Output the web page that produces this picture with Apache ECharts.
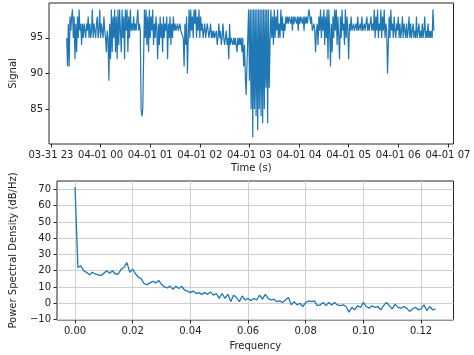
<!DOCTYPE html>
<html><head><meta charset="utf-8">
<script src="https://cdn.jsdelivr.net/npm/echarts@6/dist/echarts.min.js"></script>
<style>html,body{margin:0;padding:0;background:#fff}#c{width:474px;height:355px}</style>
</head><body><div id="c"></div>
<script>
// ---- Top panel: signal vs time (minutes after 03-31 23:00), one sample per minute ----
const sigStartMin = 19;
const sigStepMin = 1;
const sigValues = [
95,91,97,91,98,96,98,99,95,98,
92,97,93,98,95,99,96,97,94,97,
95,97,96,95,97,96,98,95,97,95,
96,99,95,97,96,95,97,98,95,96,
99,95,97,96,95,98,96,95,93,96,
95,89,97,92,99,93,98,95,99,93,
98,92,99,94,99,96,93,99,95,98,
92,99,96,99,93,98,95,99,96,97,
96,98,96,97,96,96,99,96,97,96,
85,84,85,92,99,95,99,94,98,93,
99,95,98,96,99,94,97,95,98,96,
92,97,94,98,95,97,93,98,95,97,
96,98,92,97,95,98,94,97,95,98,
96,97,96,96,97,96,96,97,96,96,
96,95,91,97,94,98,90,95,99,95,
99,96,98,95,99,97,99,95,98,96,
99,95,98,96,97,95,96,97,95,96,
97,96,95,96,97,95,96,95,96,95,
95,96,94,95,97,95,96,94,95,97,
95,94,95,96,94,95,92,97,94,95,
95,94,95,94,95,94,93,95,94,95,
94,95,93,95,91,94,90,87,91,95,
99,89,99,85,99,81,99,85,99,84,
99,82,99,85,99,84,99,83,99,85,
99,88,99,83,99,88,95,99,95,98,
94,99,95,98,96,99,95,97,95,99,
96,98,95,97,96,98,97,98,97,98,
98,97,98,96,98,97,98,98,97,98,
96,98,97,98,98,97,98,96,98,97,
98,97,98,99,98,97,98,96,96,97,
96,93,96,97,94,98,96,99,95,98,
96,99,94,98,95,99,92,99,96,91,
97,93,98,95,99,96,99,94,98,95,
92,98,95,99,96,97,94,99,95,98,
96,92,97,96,98,96,96,97,96,96,
97,96,98,96,96,97,96,98,96,96,
97,96,96,98,96,97,96,96,98,96,
97,96,99,95,98,96,99,95,97,96,
99,95,98,96,99,95,97,96,90,94,
98,95,99,96,97,95,98,96,95,97,
96,98,95,97,95,96,98,95,97,96,
95,97,95,96,98,95,97,95,96,97,
95,96,95,98,95,96,97,95,96,95,
97,95,96,98,95,96,95,97,95,96,
95,96,95,99,96
];
const timeTickLabels = ['03-31 23','04-01 00','04-01 01','04-01 02','04-01 03','04-01 04','04-01 05','04-01 06','04-01 07'];
const signalTicks = [85, 90, 95];

// ---- Bottom panel: PSD ----
const psdFreqStep = 0.001;
const psdValues = [
71.5,22,23,20,19,17.5,19,18,17.5,17,
18.5,20,18.5,20,18,18,21,22,25,19,
21,18,16,15,12,11.5,12.5,13.5,12.5,14,
11.5,10,9.5,10.5,8.5,10.5,9,10.5,8,7.5,
6.5,7.5,6,6.5,5.5,6.5,5.5,7,5,6,
3,6,3,5.5,1,5,3.5,1,4.5,2,
3,1.5,3,2,5,2.5,5.5,3,2,2.5,
1,1.5,0.5,2,3.5,-1,1,-1,0,-2,
0.5,1.5,1,1.5,-1.5,-1,0.5,-1.5,0.5,-1,
0.5,-1,-1.5,-1,-2,-5.5,-2.5,-4,-1.5,-2.5,
0.5,-2,-3,-1.5,-2.5,-2,-4,-1.5,0.5,-1.5,
-3.5,-0.5,-2.5,-3,-2,-3,-5,-3.5,-2.5,-4,
-3.5,-1,-4.5,-2,-4,-3.5
];
const freqTicks = [0, 0.02, 0.04, 0.06, 0.08, 0.10, 0.12];
const psdTicks = [-10, 0, 10, 20, 30, 40, 50, 60, 70];

const sigData = sigValues.map((v, i) => [sigStartMin + i * sigStepMin, v]);
const psdData = psdValues.map((v, i) => [+(i * psdFreqStep).toFixed(4), v]);
const timeTickVals = timeTickLabels.map((_, i) => i * 60);

const font = 'DejaVu Sans';
const txt = '#222';
const minus = s => String(s).replace('-', '\u2212');
const tickStyle = {show: true, length: 3.5, lineStyle: {color: '#262626', width: 1}};
const nameStyle = {fontFamily: font, fontSize: 10, color: txt};

const chart = echarts.init(document.getElementById('c'), null, {renderer: 'canvas'});
chart.setOption({
  animation: false,
  backgroundColor: '#fff',
  grid: [
    {left: 47, right: 20.5, top: 3, height: 141, show: true, borderColor: '#262626', borderWidth: 1, backgroundColor: 'transparent'},
    {left: 47, right: 20.5, top: 181, height: 139, show: true, borderColor: '#262626', borderWidth: 1, backgroundColor: 'transparent'}
  ],
  xAxis: [
    {type: 'value', gridIndex: 0, min: -2.4, max: 486.8,
     name: 'Time (s)', nameLocation: 'middle', nameGap: 19, nameTextStyle: nameStyle,
     axisLine: {show: false, onZero: false},
     axisTick: Object.assign({customValues: timeTickVals}, tickStyle),
     axisLabel: {customValues: timeTickVals, margin: 6, fontFamily: font, fontSize: 10, color: txt,
       formatter: v => timeTickLabels[Math.round(v / 60)]},
     splitLine: {show: false}},
    {type: 'value', gridIndex: 1, min: -0.00625, max: 0.13125,
     name: 'Frequency', nameLocation: 'middle', nameGap: 21, nameTextStyle: nameStyle,
     axisLine: {show: false, onZero: false},
     axisTick: Object.assign({customValues: freqTicks}, tickStyle),
     axisLabel: {customValues: freqTicks, margin: 6, fontFamily: font, fontSize: 10, color: txt,
       formatter: v => v.toFixed(2)},
     splitLine: {show: true, lineStyle: {color: '#cfcfcf', width: 1}}}
  ],
  yAxis: [
    {type: 'value', gridIndex: 0, min: 80.1, max: 99.9,
     name: 'Signal', nameLocation: 'middle', nameGap: 31, nameTextStyle: nameStyle,
     axisLine: {show: false, onZero: false},
     axisTick: Object.assign({customValues: signalTicks}, tickStyle),
     axisLabel: {customValues: signalTicks, margin: 6, fontFamily: font, fontSize: 10, color: txt},
     splitLine: {show: false}},
    {type: 'value', gridIndex: 1, min: -10.3, max: 75.2,
     name: 'Power Spectral Density (dB/Hz)', nameLocation: 'middle', nameGap: 39, nameTextStyle: nameStyle,
     axisLine: {show: false, onZero: false},
     axisTick: Object.assign({customValues: psdTicks}, tickStyle),
     axisLabel: {customValues: psdTicks, margin: 6, fontFamily: font, fontSize: 10, color: txt,
       formatter: v => minus(v)},
     splitLine: {show: true, lineStyle: {color: '#cfcfcf', width: 1}}}
  ],
  series: [
    {type: 'line', xAxisIndex: 0, yAxisIndex: 0, data: sigData, showSymbol: false,
     lineStyle: {color: '#1f77b4', width: 1.2}, z: 3},
    {type: 'line', xAxisIndex: 1, yAxisIndex: 1, data: psdData, showSymbol: false,
     lineStyle: {color: '#1f77b4', width: 1.3}, z: 3}
  ]
});
</script></body></html>
